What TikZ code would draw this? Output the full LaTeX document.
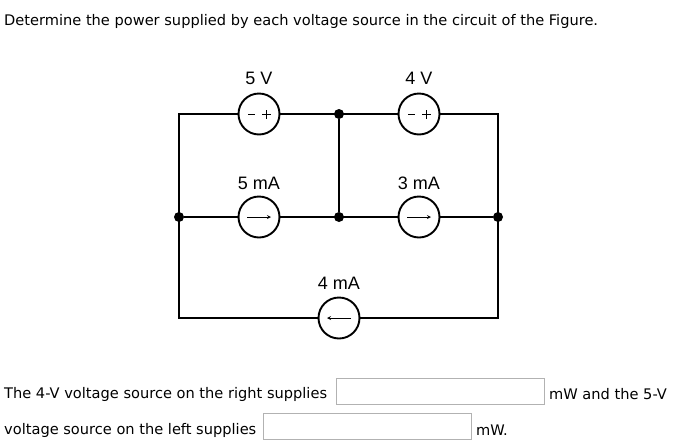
\documentclass[tikz,border=0pt]{standalone}
\usepackage{fontspec}
\setmainfont{DejaVu Sans}
\newfontfamily\arialf{Liberation Sans}
\begin{document}
\begin{tikzpicture}[x=1pt,y=-1pt,
  wire/.style={line width=2.1pt},
  src/.style={circle,draw,line width=1.9pt,minimum size=41pt,inner sep=0pt,fill=white},
  lbl/.style={font=\arialf\fontsize{18}{20}\selectfont},
  txt/.style={font=\fontsize{14.6}{16}\selectfont,anchor=west,inner sep=0pt},
  box/.style={draw=gray!60,line width=0.8pt},
  dot/.style={circle,fill=black,inner sep=0pt,minimum size=10pt}]
\useasboundingbox (0,0) rectangle (680,445);
\node[txt] (q) at (4,21) {Determine the power supplied by each voltage source in the circuit of the Figure.};
\coordinate (tl) at (179,114); \coordinate (tr) at (498,114);
\coordinate (bl) at (179,318); \coordinate (br) at (498,318);
\node[dot] (nl) at (179,217) {}; \node[dot] (nr) at (498,217) {};
\node[dot] (nt) at (339,114) {}; \node[dot] (nm) at (339,217) {};
\draw[wire] (tl) -- (tr) -- (br) -- (bl) -- cycle;
\draw[wire] (nl) -- (nr);
\draw[wire] (nt) -- (nm);
\node[src] (v5) at (259,114) {}; \node[src] (v4) at (419,114) {};
\node[src] (i5) at (259,217) {}; \node[src] (i3) at (419,217) {};
\node[src] (i4) at (339,318) {};
\foreach \s in {v5,v4}{
  \draw[line width=0.8pt] ([xshift=-11pt]\s.center) -- ([xshift=-4pt]\s.center);
  \draw[line width=0.8pt] ([xshift=3pt]\s.center) -- ([xshift=12pt]\s.center) ([xshift=7.5pt,yshift=-4.5pt]\s.center) -- ([xshift=7.5pt,yshift=4.5pt]\s.center);}
\foreach \s in {i5,i3}{\draw[-stealth,line width=0.8pt] ([xshift=-12pt]\s.center) -- ([xshift=12pt]\s.center);}
\draw[-stealth,line width=0.8pt] ([xshift=12pt]i4.center) -- ([xshift=-12pt]i4.center);
\node[lbl] (l1) at (259,78) {5 V}; \node[lbl] (l2) at (419,78) {4 V};
\node[lbl] (l3) at (259,183) {5 mA}; \node[lbl] (l4) at (419,183) {3 mA};
\node[lbl] (l5) at (339,283) {4 mA};
\node[txt] (a1) at (4,394) {The 4-V voltage source on the right supplies};
\draw[box] (336,378) rectangle (544,404);
\node[txt] (a2) at (549,394) {mW and the 5-V};
\node[txt] (a3) at (4,430) {voltage source on the left supplies};
\draw[box] (263,413) rectangle (471,439);
\node[txt] (a4) at (476,430) {mW.};
\end{tikzpicture}
\end{document}
